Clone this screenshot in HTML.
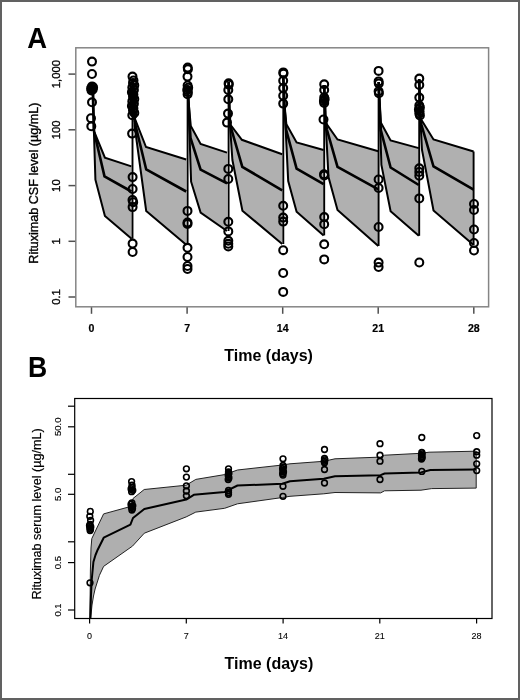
<!DOCTYPE html>
<html><head><meta charset="utf-8"><title>Rituximab levels</title>
<style>
html,body{margin:0;padding:0;background:#fff;}
body{width:520px;height:700px;overflow:hidden;position:relative;}
.frame{position:absolute;left:0;top:0;width:516px;height:696px;border:2px solid #616161;background:#fff;}
svg{position:absolute;left:0;top:0;font-family:"Liberation Sans", Arial, sans-serif;}
.th{stroke:#000;stroke-width:0.35px;}
</style></head><body>
<div class="frame"></div>
<svg width="520" height="700" viewBox="0 0 520 700">
<g id="panelA">
<polygon points="93.9,131.0 104.9,157.7 131.4,166.4 131.6,238.8 104.9,215.9 95.4,179.7" fill="#b0b0b0" stroke="none"/>
<polygon points="134.8,122.0 135.8,121.0 146.0,147.0 186.2,159.5 186.5,245.0 146.2,211.0 134.6,126.0" fill="#b0b0b0" stroke="none"/>
<polygon points="188.3,99.0 190.8,126.0 200.6,144.0 227.0,152.6 227.0,231.0 200.6,212.6 191.1,181.7" fill="#b0b0b0" stroke="none"/>
<polygon points="229.9,124.0 241.9,139.8 282.2,154.2 282.2,244.0 242.4,210.7 232.4,160.0" fill="#b0b0b0" stroke="none"/>
<polygon points="284.6,108.0 286.4,124.3 296.6,142.4 323.6,150.0 323.6,235.4 296.6,211.8 288.2,181.0" fill="#b0b0b0" stroke="none"/>
<polygon points="325.5,120.0 327.0,124.5 337.5,139.5 378.3,151.3 378.3,246.0 337.5,210.0 328.5,177.0" fill="#b0b0b0" stroke="none"/>
<polygon points="379.3,98.0 380.8,122.4 390.6,140.5 418.8,148.1 418.8,235.8 390.6,211.2 381.4,165.0" fill="#b0b0b0" stroke="none"/>
<polygon points="420.3,118.0 421.5,120.0 433.5,139.5 473.6,151.5 473.6,245.0 433.5,210.5 422.0,150.0" fill="#b0b0b0" stroke="none"/>
<polyline points="92.8,86.0 93.9,131.0" fill="none" stroke="#000" stroke-width="2.8"/>
<line x1="132.5" y1="238.8" x2="132.5" y2="80.0" stroke="#000" stroke-width="1.9"/>
<polyline points="132.5,80.0 134.8,122.0" fill="none" stroke="#000" stroke-width="2.8"/>
<line x1="187.6" y1="245.0" x2="187.6" y2="86.0" stroke="#000" stroke-width="1.9"/>
<polyline points="187.6,86.0 188.3,99.0" fill="none" stroke="#000" stroke-width="2.8"/>
<line x1="228.6" y1="231.0" x2="228.6" y2="82.0" stroke="#000" stroke-width="1.9"/>
<polyline points="228.6,82.0 229.9,124.0" fill="none" stroke="#000" stroke-width="2.8"/>
<line x1="283.3" y1="244.0" x2="283.3" y2="77.0" stroke="#000" stroke-width="1.9"/>
<polyline points="283.3,77.0 284.6,108.0" fill="none" stroke="#000" stroke-width="2.8"/>
<line x1="324.2" y1="235.4" x2="324.2" y2="85.0" stroke="#000" stroke-width="1.9"/>
<polyline points="324.2,85.0 325.5,120.0" fill="none" stroke="#000" stroke-width="2.8"/>
<line x1="378.6" y1="246.0" x2="378.6" y2="82.0" stroke="#000" stroke-width="1.9"/>
<polyline points="378.6,82.0 379.3,98.0" fill="none" stroke="#000" stroke-width="2.8"/>
<line x1="419.2" y1="235.8" x2="419.2" y2="79.0" stroke="#000" stroke-width="1.9"/>
<polyline points="419.2,79.0 420.3,118.0" fill="none" stroke="#000" stroke-width="2.8"/>
<line x1="473.6" y1="151.5" x2="473.6" y2="245.0" stroke="#000" stroke-width="1.9"/>
<polyline points="93.9,131.0 104.9,157.7 131.4,166.4" fill="none" stroke="#000" stroke-width="2" stroke-linejoin="miter"/>
<polyline points="93.9,131.0 95.4,179.7 104.9,215.9 131.6,238.8" fill="none" stroke="#000" stroke-width="2" stroke-linejoin="miter"/>
<polyline points="93.9,131.0 104.5,176.3 131.4,191.5" fill="none" stroke="#000" stroke-width="2.6" stroke-linejoin="miter"/>
<polyline points="134.8,122.0 135.8,121.0 146.0,147.0 186.2,159.5" fill="none" stroke="#000" stroke-width="2" stroke-linejoin="miter"/>
<polyline points="134.8,122.0 134.6,126.0 146.2,211.0 186.5,245.0" fill="none" stroke="#000" stroke-width="2" stroke-linejoin="miter"/>
<polyline points="134.8,122.0 135.2,124.0 146.2,169.5 186.2,191.5" fill="none" stroke="#000" stroke-width="2.6" stroke-linejoin="miter"/>
<polyline points="188.3,99.0 190.8,126.0 200.6,144.0 227.0,152.6" fill="none" stroke="#000" stroke-width="2" stroke-linejoin="miter"/>
<polyline points="188.3,99.0 191.1,181.7 200.6,212.6 227.0,231.0" fill="none" stroke="#000" stroke-width="2" stroke-linejoin="miter"/>
<polyline points="188.3,99.0 190.5,138.0 200.6,169.7 227.0,183.4" fill="none" stroke="#000" stroke-width="2.6" stroke-linejoin="miter"/>
<polyline points="229.9,124.0 241.9,139.8 282.2,154.2" fill="none" stroke="#000" stroke-width="2" stroke-linejoin="miter"/>
<polyline points="229.9,124.0 232.4,160.0 242.4,210.7 282.2,244.0" fill="none" stroke="#000" stroke-width="2" stroke-linejoin="miter"/>
<polyline points="229.9,124.0 242.3,166.8 282.2,190.3" fill="none" stroke="#000" stroke-width="2.6" stroke-linejoin="miter"/>
<polyline points="284.6,108.0 286.4,124.3 296.6,142.4 323.6,150.0" fill="none" stroke="#000" stroke-width="2" stroke-linejoin="miter"/>
<polyline points="284.6,108.0 288.2,181.0 296.6,211.8 323.6,235.4" fill="none" stroke="#000" stroke-width="2" stroke-linejoin="miter"/>
<polyline points="284.6,108.0 286.2,130.0 296.6,168.6 323.6,184.2" fill="none" stroke="#000" stroke-width="2.6" stroke-linejoin="miter"/>
<polyline points="325.5,120.0 327.0,124.5 337.5,139.5 378.3,151.3" fill="none" stroke="#000" stroke-width="2" stroke-linejoin="miter"/>
<polyline points="325.5,120.0 328.5,177.0 337.5,210.0 378.3,246.0" fill="none" stroke="#000" stroke-width="2" stroke-linejoin="miter"/>
<polyline points="325.5,120.0 327.0,130.0 337.5,166.8 378.3,189.3" fill="none" stroke="#000" stroke-width="2.6" stroke-linejoin="miter"/>
<polyline points="379.3,98.0 380.8,122.4 390.6,140.5 418.8,148.1" fill="none" stroke="#000" stroke-width="2" stroke-linejoin="miter"/>
<polyline points="379.3,98.0 381.4,165.0 390.6,211.2 418.8,235.8" fill="none" stroke="#000" stroke-width="2" stroke-linejoin="miter"/>
<polyline points="379.3,98.0 380.8,130.0 390.6,167.5 418.8,185.0" fill="none" stroke="#000" stroke-width="2.6" stroke-linejoin="miter"/>
<polyline points="420.3,118.0 421.5,120.0 433.5,139.5 473.6,151.5" fill="none" stroke="#000" stroke-width="2" stroke-linejoin="miter"/>
<polyline points="420.3,118.0 422.0,150.0 433.5,210.5 473.6,245.0" fill="none" stroke="#000" stroke-width="2" stroke-linejoin="miter"/>
<polyline points="420.3,118.0 421.5,125.0 433.5,166.5 473.6,189.6" fill="none" stroke="#000" stroke-width="2.6" stroke-linejoin="miter"/>
<circle cx="92.0" cy="61.6" r="3.95" fill="none" stroke="#000" stroke-width="2.1"/>
<circle cx="92.0" cy="74.0" r="3.95" fill="none" stroke="#000" stroke-width="2.1"/>
<circle cx="92.1" cy="86.4" r="3.95" fill="none" stroke="#000" stroke-width="2.1"/>
<circle cx="93.1" cy="87.4" r="3.95" fill="none" stroke="#000" stroke-width="2.1"/>
<circle cx="91.1" cy="88.4" r="3.95" fill="none" stroke="#000" stroke-width="2.1"/>
<circle cx="92.7" cy="89.4" r="3.95" fill="none" stroke="#000" stroke-width="2.1"/>
<circle cx="91.5" cy="90.4" r="3.95" fill="none" stroke="#000" stroke-width="2.1"/>
<circle cx="92.0" cy="102.3" r="3.95" fill="none" stroke="#000" stroke-width="2.1"/>
<circle cx="91.0" cy="118.2" r="3.95" fill="none" stroke="#000" stroke-width="2.1"/>
<circle cx="91.3" cy="126.3" r="3.95" fill="none" stroke="#000" stroke-width="2.1"/>
<circle cx="132.5" cy="76.6" r="3.95" fill="none" stroke="#000" stroke-width="2.1"/>
<circle cx="133.5" cy="80.5" r="3.95" fill="none" stroke="#000" stroke-width="2.1"/>
<circle cx="133.0" cy="83.0" r="3.95" fill="none" stroke="#000" stroke-width="2.1"/>
<circle cx="134.3" cy="85.3" r="3.95" fill="none" stroke="#000" stroke-width="2.1"/>
<circle cx="132.3" cy="87.6" r="3.95" fill="none" stroke="#000" stroke-width="2.1"/>
<circle cx="133.9" cy="89.9" r="3.95" fill="none" stroke="#000" stroke-width="2.1"/>
<circle cx="131.9" cy="92.2" r="3.95" fill="none" stroke="#000" stroke-width="2.1"/>
<circle cx="133.4" cy="94.5" r="3.95" fill="none" stroke="#000" stroke-width="2.1"/>
<circle cx="133.0" cy="96.8" r="3.95" fill="none" stroke="#000" stroke-width="2.1"/>
<circle cx="134.3" cy="99.1" r="3.95" fill="none" stroke="#000" stroke-width="2.1"/>
<circle cx="132.3" cy="101.4" r="3.95" fill="none" stroke="#000" stroke-width="2.1"/>
<circle cx="133.9" cy="103.7" r="3.95" fill="none" stroke="#000" stroke-width="2.1"/>
<circle cx="131.9" cy="106.0" r="3.95" fill="none" stroke="#000" stroke-width="2.1"/>
<circle cx="133.4" cy="108.3" r="3.95" fill="none" stroke="#000" stroke-width="2.1"/>
<circle cx="133.0" cy="110.6" r="3.95" fill="none" stroke="#000" stroke-width="2.1"/>
<circle cx="134.3" cy="112.9" r="3.95" fill="none" stroke="#000" stroke-width="2.1"/>
<circle cx="132.3" cy="115.2" r="3.95" fill="none" stroke="#000" stroke-width="2.1"/>
<circle cx="132.1" cy="133.6" r="3.95" fill="none" stroke="#000" stroke-width="2.1"/>
<circle cx="132.6" cy="177.1" r="3.95" fill="none" stroke="#000" stroke-width="2.1"/>
<circle cx="132.6" cy="189.0" r="3.95" fill="none" stroke="#000" stroke-width="2.1"/>
<circle cx="132.5" cy="200.0" r="3.95" fill="none" stroke="#000" stroke-width="2.1"/>
<circle cx="133.2" cy="202.2" r="3.95" fill="none" stroke="#000" stroke-width="2.1"/>
<circle cx="132.6" cy="207.1" r="3.95" fill="none" stroke="#000" stroke-width="2.1"/>
<circle cx="132.6" cy="243.6" r="3.95" fill="none" stroke="#000" stroke-width="2.1"/>
<circle cx="132.6" cy="252.0" r="3.95" fill="none" stroke="#000" stroke-width="2.1"/>
<circle cx="187.7" cy="67.6" r="3.95" fill="none" stroke="#000" stroke-width="2.1"/>
<circle cx="187.9" cy="69.2" r="3.95" fill="none" stroke="#000" stroke-width="2.1"/>
<circle cx="187.5" cy="76.6" r="3.95" fill="none" stroke="#000" stroke-width="2.1"/>
<circle cx="187.6" cy="85.5" r="3.95" fill="none" stroke="#000" stroke-width="2.1"/>
<circle cx="188.2" cy="87.7" r="3.95" fill="none" stroke="#000" stroke-width="2.1"/>
<circle cx="187.2" cy="89.9" r="3.95" fill="none" stroke="#000" stroke-width="2.1"/>
<circle cx="187.9" cy="92.1" r="3.95" fill="none" stroke="#000" stroke-width="2.1"/>
<circle cx="187.6" cy="94.3" r="3.95" fill="none" stroke="#000" stroke-width="2.1"/>
<circle cx="187.5" cy="210.9" r="3.95" fill="none" stroke="#000" stroke-width="2.1"/>
<circle cx="187.5" cy="222.6" r="3.95" fill="none" stroke="#000" stroke-width="2.1"/>
<circle cx="187.5" cy="224.0" r="3.95" fill="none" stroke="#000" stroke-width="2.1"/>
<circle cx="187.5" cy="247.8" r="3.95" fill="none" stroke="#000" stroke-width="2.1"/>
<circle cx="187.5" cy="257.0" r="3.95" fill="none" stroke="#000" stroke-width="2.1"/>
<circle cx="187.5" cy="266.0" r="3.95" fill="none" stroke="#000" stroke-width="2.1"/>
<circle cx="187.5" cy="269.0" r="3.95" fill="none" stroke="#000" stroke-width="2.1"/>
<circle cx="228.6" cy="83.2" r="3.95" fill="none" stroke="#000" stroke-width="2.1"/>
<circle cx="228.8" cy="84.6" r="3.95" fill="none" stroke="#000" stroke-width="2.1"/>
<circle cx="228.3" cy="90.0" r="3.95" fill="none" stroke="#000" stroke-width="2.1"/>
<circle cx="228.3" cy="99.3" r="3.95" fill="none" stroke="#000" stroke-width="2.1"/>
<circle cx="228.0" cy="113.6" r="3.95" fill="none" stroke="#000" stroke-width="2.1"/>
<circle cx="227.0" cy="122.6" r="3.95" fill="none" stroke="#000" stroke-width="2.1"/>
<circle cx="228.3" cy="168.9" r="3.95" fill="none" stroke="#000" stroke-width="2.1"/>
<circle cx="228.3" cy="179.0" r="3.95" fill="none" stroke="#000" stroke-width="2.1"/>
<circle cx="228.3" cy="221.8" r="3.95" fill="none" stroke="#000" stroke-width="2.1"/>
<circle cx="228.3" cy="231.4" r="3.95" fill="none" stroke="#000" stroke-width="2.1"/>
<circle cx="228.3" cy="240.8" r="3.95" fill="none" stroke="#000" stroke-width="2.1"/>
<circle cx="228.3" cy="243.8" r="3.95" fill="none" stroke="#000" stroke-width="2.1"/>
<circle cx="228.3" cy="246.4" r="3.95" fill="none" stroke="#000" stroke-width="2.1"/>
<circle cx="283.3" cy="72.4" r="3.95" fill="none" stroke="#000" stroke-width="2.1"/>
<circle cx="283.5" cy="73.6" r="3.95" fill="none" stroke="#000" stroke-width="2.1"/>
<circle cx="283.2" cy="80.7" r="3.95" fill="none" stroke="#000" stroke-width="2.1"/>
<circle cx="283.2" cy="88.1" r="3.95" fill="none" stroke="#000" stroke-width="2.1"/>
<circle cx="283.2" cy="95.7" r="3.95" fill="none" stroke="#000" stroke-width="2.1"/>
<circle cx="283.2" cy="103.6" r="3.95" fill="none" stroke="#000" stroke-width="2.1"/>
<circle cx="283.2" cy="205.8" r="3.95" fill="none" stroke="#000" stroke-width="2.1"/>
<circle cx="283.2" cy="217.6" r="3.95" fill="none" stroke="#000" stroke-width="2.1"/>
<circle cx="283.2" cy="221.6" r="3.95" fill="none" stroke="#000" stroke-width="2.1"/>
<circle cx="283.2" cy="250.2" r="3.95" fill="none" stroke="#000" stroke-width="2.1"/>
<circle cx="283.2" cy="273.0" r="3.95" fill="none" stroke="#000" stroke-width="2.1"/>
<circle cx="283.2" cy="291.9" r="3.95" fill="none" stroke="#000" stroke-width="2.1"/>
<circle cx="324.2" cy="84.3" r="3.95" fill="none" stroke="#000" stroke-width="2.1"/>
<circle cx="324.2" cy="90.0" r="3.95" fill="none" stroke="#000" stroke-width="2.1"/>
<circle cx="324.2" cy="97.5" r="3.95" fill="none" stroke="#000" stroke-width="2.1"/>
<circle cx="324.7" cy="99.3" r="3.95" fill="none" stroke="#000" stroke-width="2.1"/>
<circle cx="323.9" cy="101.1" r="3.95" fill="none" stroke="#000" stroke-width="2.1"/>
<circle cx="324.2" cy="102.9" r="3.95" fill="none" stroke="#000" stroke-width="2.1"/>
<circle cx="323.5" cy="119.5" r="3.95" fill="none" stroke="#000" stroke-width="2.1"/>
<circle cx="324.0" cy="174.3" r="3.95" fill="none" stroke="#000" stroke-width="2.1"/>
<circle cx="324.3" cy="175.5" r="3.95" fill="none" stroke="#000" stroke-width="2.1"/>
<circle cx="324.2" cy="217.1" r="3.95" fill="none" stroke="#000" stroke-width="2.1"/>
<circle cx="324.2" cy="224.3" r="3.95" fill="none" stroke="#000" stroke-width="2.1"/>
<circle cx="324.2" cy="244.3" r="3.95" fill="none" stroke="#000" stroke-width="2.1"/>
<circle cx="324.2" cy="259.4" r="3.95" fill="none" stroke="#000" stroke-width="2.1"/>
<circle cx="378.6" cy="70.9" r="3.95" fill="none" stroke="#000" stroke-width="2.1"/>
<circle cx="378.6" cy="81.4" r="3.95" fill="none" stroke="#000" stroke-width="2.1"/>
<circle cx="378.8" cy="83.4" r="3.95" fill="none" stroke="#000" stroke-width="2.1"/>
<circle cx="378.6" cy="91.2" r="3.95" fill="none" stroke="#000" stroke-width="2.1"/>
<circle cx="378.9" cy="93.2" r="3.95" fill="none" stroke="#000" stroke-width="2.1"/>
<circle cx="378.6" cy="179.5" r="3.95" fill="none" stroke="#000" stroke-width="2.1"/>
<circle cx="378.6" cy="188.0" r="3.95" fill="none" stroke="#000" stroke-width="2.1"/>
<circle cx="378.6" cy="227.0" r="3.95" fill="none" stroke="#000" stroke-width="2.1"/>
<circle cx="378.6" cy="262.6" r="3.95" fill="none" stroke="#000" stroke-width="2.1"/>
<circle cx="378.6" cy="267.0" r="3.95" fill="none" stroke="#000" stroke-width="2.1"/>
<circle cx="419.3" cy="78.6" r="3.95" fill="none" stroke="#000" stroke-width="2.1"/>
<circle cx="419.3" cy="85.0" r="3.95" fill="none" stroke="#000" stroke-width="2.1"/>
<circle cx="419.3" cy="97.6" r="3.95" fill="none" stroke="#000" stroke-width="2.1"/>
<circle cx="419.3" cy="105.5" r="3.95" fill="none" stroke="#000" stroke-width="2.1"/>
<circle cx="419.9" cy="107.5" r="3.95" fill="none" stroke="#000" stroke-width="2.1"/>
<circle cx="418.9" cy="109.5" r="3.95" fill="none" stroke="#000" stroke-width="2.1"/>
<circle cx="419.6" cy="111.5" r="3.95" fill="none" stroke="#000" stroke-width="2.1"/>
<circle cx="419.3" cy="113.5" r="3.95" fill="none" stroke="#000" stroke-width="2.1"/>
<circle cx="419.9" cy="115.5" r="3.95" fill="none" stroke="#000" stroke-width="2.1"/>
<circle cx="419.3" cy="168.3" r="3.95" fill="none" stroke="#000" stroke-width="2.1"/>
<circle cx="419.3" cy="172.0" r="3.95" fill="none" stroke="#000" stroke-width="2.1"/>
<circle cx="419.3" cy="175.8" r="3.95" fill="none" stroke="#000" stroke-width="2.1"/>
<circle cx="419.3" cy="198.4" r="3.95" fill="none" stroke="#000" stroke-width="2.1"/>
<circle cx="419.3" cy="262.5" r="3.95" fill="none" stroke="#000" stroke-width="2.1"/>
<circle cx="474.0" cy="204.0" r="3.95" fill="none" stroke="#000" stroke-width="2.1"/>
<circle cx="474.0" cy="210.0" r="3.95" fill="none" stroke="#000" stroke-width="2.1"/>
<circle cx="474.0" cy="229.5" r="3.95" fill="none" stroke="#000" stroke-width="2.1"/>
<circle cx="474.0" cy="243.0" r="3.95" fill="none" stroke="#000" stroke-width="2.1"/>
<circle cx="474.0" cy="250.5" r="3.95" fill="none" stroke="#000" stroke-width="2.1"/>
<ellipse cx="92.1" cy="88.4" rx="3.0" ry="4.2" fill="#000"/>
<ellipse cx="133.0" cy="100.5" rx="3.2" ry="16.5" fill="#000"/>
<ellipse cx="187.7" cy="89.8" rx="3.0" ry="4.5" fill="#000"/>
<ellipse cx="324.3" cy="101.2" rx="3.0" ry="3.2" fill="#000"/>
<ellipse cx="419.5" cy="111.5" rx="2.2" ry="4.0" fill="#000"/>
<rect x="75.8" y="47.8" width="412.8" height="259.0" fill="none" stroke="#858585" stroke-width="1.5"/>
<line x1="68.5" y1="74.1" x2="75.2" y2="74.1" stroke="#505050" stroke-width="1.5"/>
<text x="0" y="0" transform="translate(59.8,74.1) rotate(-90)" text-anchor="middle" font-size="11.3" class="th" fill="#000">1,000</text>
<line x1="68.5" y1="129.8" x2="75.2" y2="129.8" stroke="#505050" stroke-width="1.5"/>
<text x="0" y="0" transform="translate(59.8,129.8) rotate(-90)" text-anchor="middle" font-size="11.3" class="th" fill="#000">100</text>
<line x1="68.5" y1="185.6" x2="75.2" y2="185.6" stroke="#505050" stroke-width="1.5"/>
<text x="0" y="0" transform="translate(59.8,185.6) rotate(-90)" text-anchor="middle" font-size="11.3" class="th" fill="#000">10</text>
<line x1="68.5" y1="241.3" x2="75.2" y2="241.3" stroke="#505050" stroke-width="1.5"/>
<text x="0" y="0" transform="translate(59.8,241.3) rotate(-90)" text-anchor="middle" font-size="11.3" class="th" fill="#000">1</text>
<line x1="68.5" y1="297.0" x2="75.2" y2="297.0" stroke="#505050" stroke-width="1.5"/>
<text x="0" y="0" transform="translate(59.8,297.0) rotate(-90)" text-anchor="middle" font-size="11.3" class="th" fill="#000">0.1</text>
<line x1="91.5" y1="307.3" x2="91.5" y2="313.8" stroke="#505050" stroke-width="1.5"/>
<text x="91.5" y="331.5" text-anchor="middle" font-size="10.6" font-weight="bold" stroke="#000" stroke-width="0.2" fill="#000">0</text>
<line x1="187.1" y1="307.3" x2="187.1" y2="313.8" stroke="#505050" stroke-width="1.5"/>
<text x="187.1" y="331.5" text-anchor="middle" font-size="10.6" font-weight="bold" stroke="#000" stroke-width="0.2" fill="#000">7</text>
<line x1="282.7" y1="307.3" x2="282.7" y2="313.8" stroke="#505050" stroke-width="1.5"/>
<text x="282.7" y="331.5" text-anchor="middle" font-size="10.6" font-weight="bold" stroke="#000" stroke-width="0.2" fill="#000">14</text>
<line x1="378.2" y1="307.3" x2="378.2" y2="313.8" stroke="#505050" stroke-width="1.5"/>
<text x="378.2" y="331.5" text-anchor="middle" font-size="10.6" font-weight="bold" stroke="#000" stroke-width="0.2" fill="#000">21</text>
<line x1="473.8" y1="307.3" x2="473.8" y2="313.8" stroke="#505050" stroke-width="1.5"/>
<text x="473.8" y="331.5" text-anchor="middle" font-size="10.6" font-weight="bold" stroke="#000" stroke-width="0.2" fill="#000">28</text>
<text x="224.3" y="360.5" font-size="16" font-weight="bold" fill="#000">Time (days)</text>
<text x="0" y="0" transform="translate(38.0,183.1) rotate(-90)" text-anchor="middle" font-size="12.6" class="th" fill="#000">Rituximab CSF level (µg/mL)</text>
</g>
<g id="panelB">
<polygon points="89.9,618.3 90.4,570.0 91.0,548.0 91.8,538.6 103.6,513.9 131.2,506.3 133.0,498.5 144.2,489.5 186.2,485.2 195.8,479.4 224.6,474.6 237.5,470.0 282.5,465.0 290.0,463.8 323.8,461.3 335.0,458.8 380.6,457.1 384.6,455.2 421.0,453.3 429.0,452.2 476.2,451.2 476.2,488.1 431.7,488.6 421.0,490.2 384.6,490.8 380.6,492.9 335.0,492.5 323.8,493.8 290.0,496.3 282.5,497.5 237.5,503.8 224.6,508.3 195.8,512.1 186.2,516.9 144.3,533.2 132.5,546.1 103.6,566.4 99.4,575.4 95.1,589.0 93.5,596.0 92.0,605.0 90.7,618.3" fill="#afafaf" stroke="#222" stroke-width="1"/>
<polyline points="90.3,618.3 91.0,595.0 91.7,580.0 93.4,562.0 95.5,555.0 97.7,549.7 103.7,537.7 130.4,524.6 133.0,518.0 144.3,509.0 186.2,499.6 193.8,494.8 224.6,491.9 237.5,485.5 282.5,483.8 290.0,481.3 323.8,478.8 335.0,476.3 380.6,475.2 384.6,473.5 421.0,472.4 430.4,470.0 476.2,469.5" fill="none" stroke="#000" stroke-width="2.0" stroke-linejoin="round"/>
<circle cx="90.3" cy="511.4" r="2.85" fill="none" stroke="#000" stroke-width="1.6"/>
<circle cx="89.8" cy="516.3" r="2.85" fill="none" stroke="#000" stroke-width="1.6"/>
<circle cx="90.6" cy="520.3" r="2.85" fill="none" stroke="#000" stroke-width="1.6"/>
<circle cx="90.1" cy="524.5" r="2.85" fill="none" stroke="#000" stroke-width="1.6"/>
<circle cx="89.5" cy="525.7" r="2.85" fill="none" stroke="#000" stroke-width="1.6"/>
<circle cx="90.8" cy="526.9" r="2.85" fill="none" stroke="#000" stroke-width="1.6"/>
<circle cx="89.8" cy="528.1" r="2.85" fill="none" stroke="#000" stroke-width="1.6"/>
<circle cx="90.5" cy="529.3" r="2.85" fill="none" stroke="#000" stroke-width="1.6"/>
<circle cx="90.1" cy="530.5" r="2.85" fill="none" stroke="#000" stroke-width="1.6"/>
<circle cx="90.0" cy="582.8" r="2.85" fill="none" stroke="#000" stroke-width="1.6"/>
<circle cx="131.6" cy="481.6" r="2.85" fill="none" stroke="#000" stroke-width="1.6"/>
<circle cx="132.0" cy="485.2" r="2.85" fill="none" stroke="#000" stroke-width="1.6"/>
<circle cx="132.0" cy="487.5" r="2.85" fill="none" stroke="#000" stroke-width="1.6"/>
<circle cx="131.1" cy="488.9" r="2.85" fill="none" stroke="#000" stroke-width="1.6"/>
<circle cx="132.8" cy="490.3" r="2.85" fill="none" stroke="#000" stroke-width="1.6"/>
<circle cx="131.6" cy="491.7" r="2.85" fill="none" stroke="#000" stroke-width="1.6"/>
<circle cx="131.9" cy="503.0" r="2.85" fill="none" stroke="#000" stroke-width="1.6"/>
<circle cx="131.0" cy="504.4" r="2.85" fill="none" stroke="#000" stroke-width="1.6"/>
<circle cx="132.8" cy="505.8" r="2.85" fill="none" stroke="#000" stroke-width="1.6"/>
<circle cx="131.4" cy="507.2" r="2.85" fill="none" stroke="#000" stroke-width="1.6"/>
<circle cx="132.5" cy="508.6" r="2.85" fill="none" stroke="#000" stroke-width="1.6"/>
<circle cx="131.9" cy="510.0" r="2.85" fill="none" stroke="#000" stroke-width="1.6"/>
<circle cx="186.4" cy="468.8" r="2.85" fill="none" stroke="#000" stroke-width="1.6"/>
<circle cx="186.4" cy="477.1" r="2.85" fill="none" stroke="#000" stroke-width="1.6"/>
<circle cx="186.4" cy="485.8" r="2.85" fill="none" stroke="#000" stroke-width="1.6"/>
<circle cx="186.4" cy="491.0" r="2.85" fill="none" stroke="#000" stroke-width="1.6"/>
<circle cx="186.4" cy="495.8" r="2.85" fill="none" stroke="#000" stroke-width="1.6"/>
<circle cx="228.5" cy="468.8" r="2.85" fill="none" stroke="#000" stroke-width="1.6"/>
<circle cx="228.5" cy="472.0" r="2.85" fill="none" stroke="#000" stroke-width="1.6"/>
<circle cx="228.9" cy="473.5" r="2.85" fill="none" stroke="#000" stroke-width="1.6"/>
<circle cx="228.2" cy="475.0" r="2.85" fill="none" stroke="#000" stroke-width="1.6"/>
<circle cx="228.5" cy="476.5" r="2.85" fill="none" stroke="#000" stroke-width="1.6"/>
<circle cx="228.9" cy="478.0" r="2.85" fill="none" stroke="#000" stroke-width="1.6"/>
<circle cx="228.2" cy="479.5" r="2.85" fill="none" stroke="#000" stroke-width="1.6"/>
<circle cx="228.5" cy="490.5" r="2.85" fill="none" stroke="#000" stroke-width="1.6"/>
<circle cx="228.5" cy="492.5" r="2.85" fill="none" stroke="#000" stroke-width="1.6"/>
<circle cx="228.5" cy="494.3" r="2.85" fill="none" stroke="#000" stroke-width="1.6"/>
<circle cx="283.0" cy="458.8" r="2.85" fill="none" stroke="#000" stroke-width="1.6"/>
<circle cx="283.0" cy="465.5" r="2.85" fill="none" stroke="#000" stroke-width="1.6"/>
<circle cx="283.5" cy="467.1" r="2.85" fill="none" stroke="#000" stroke-width="1.6"/>
<circle cx="282.6" cy="468.7" r="2.85" fill="none" stroke="#000" stroke-width="1.6"/>
<circle cx="283.0" cy="470.3" r="2.85" fill="none" stroke="#000" stroke-width="1.6"/>
<circle cx="283.5" cy="471.9" r="2.85" fill="none" stroke="#000" stroke-width="1.6"/>
<circle cx="282.6" cy="473.5" r="2.85" fill="none" stroke="#000" stroke-width="1.6"/>
<circle cx="283.0" cy="475.1" r="2.85" fill="none" stroke="#000" stroke-width="1.6"/>
<circle cx="283.0" cy="486.3" r="2.85" fill="none" stroke="#000" stroke-width="1.6"/>
<circle cx="283.0" cy="496.3" r="2.85" fill="none" stroke="#000" stroke-width="1.6"/>
<circle cx="324.5" cy="449.5" r="2.85" fill="none" stroke="#000" stroke-width="1.6"/>
<circle cx="324.5" cy="458.5" r="2.85" fill="none" stroke="#000" stroke-width="1.6"/>
<circle cx="324.9" cy="459.9" r="2.85" fill="none" stroke="#000" stroke-width="1.6"/>
<circle cx="324.2" cy="461.3" r="2.85" fill="none" stroke="#000" stroke-width="1.6"/>
<circle cx="324.5" cy="462.7" r="2.85" fill="none" stroke="#000" stroke-width="1.6"/>
<circle cx="324.5" cy="469.5" r="2.85" fill="none" stroke="#000" stroke-width="1.6"/>
<circle cx="324.5" cy="483.0" r="2.85" fill="none" stroke="#000" stroke-width="1.6"/>
<circle cx="380.0" cy="443.7" r="2.85" fill="none" stroke="#000" stroke-width="1.6"/>
<circle cx="380.0" cy="455.2" r="2.85" fill="none" stroke="#000" stroke-width="1.6"/>
<circle cx="380.0" cy="461.2" r="2.85" fill="none" stroke="#000" stroke-width="1.6"/>
<circle cx="380.0" cy="479.5" r="2.85" fill="none" stroke="#000" stroke-width="1.6"/>
<circle cx="421.8" cy="437.5" r="2.85" fill="none" stroke="#000" stroke-width="1.6"/>
<circle cx="421.8" cy="452.5" r="2.85" fill="none" stroke="#000" stroke-width="1.6"/>
<circle cx="422.2" cy="453.8" r="2.85" fill="none" stroke="#000" stroke-width="1.6"/>
<circle cx="421.5" cy="455.1" r="2.85" fill="none" stroke="#000" stroke-width="1.6"/>
<circle cx="421.8" cy="456.4" r="2.85" fill="none" stroke="#000" stroke-width="1.6"/>
<circle cx="422.2" cy="457.7" r="2.85" fill="none" stroke="#000" stroke-width="1.6"/>
<circle cx="421.5" cy="459.0" r="2.85" fill="none" stroke="#000" stroke-width="1.6"/>
<circle cx="421.8" cy="471.4" r="2.85" fill="none" stroke="#000" stroke-width="1.6"/>
<circle cx="476.7" cy="435.6" r="2.85" fill="none" stroke="#000" stroke-width="1.6"/>
<circle cx="476.7" cy="451.7" r="2.85" fill="none" stroke="#000" stroke-width="1.6"/>
<circle cx="476.7" cy="455.2" r="2.85" fill="none" stroke="#000" stroke-width="1.6"/>
<circle cx="476.7" cy="463.8" r="2.85" fill="none" stroke="#000" stroke-width="1.6"/>
<circle cx="476.7" cy="470.6" r="2.85" fill="none" stroke="#000" stroke-width="1.6"/>
<ellipse cx="90.1" cy="527.5" rx="2.0" ry="3.0" fill="#000"/>
<ellipse cx="132.0" cy="490.3" rx="1.8" ry="2.8" fill="#000"/>
<ellipse cx="131.9" cy="507.0" rx="2.0" ry="4.2" fill="#000"/>
<ellipse cx="228.5" cy="475.7" rx="1.6" ry="3.2" fill="#000"/>
<ellipse cx="283.0" cy="470.5" rx="1.6" ry="4.0" fill="#000"/>
<ellipse cx="421.8" cy="455.8" rx="1.6" ry="2.8" fill="#000"/>
<rect x="74.7" y="398.5" width="417.3" height="220" fill="none" stroke="#000" stroke-width="1.2"/>
<line x1="68" y1="406.2" x2="74.7" y2="406.2" stroke="#000" stroke-width="1.2"/>
<line x1="68" y1="426.8" x2="74.7" y2="426.8" stroke="#000" stroke-width="1.2"/>
<text x="0" y="0" transform="translate(60.9,426.8) rotate(-90)" text-anchor="middle" font-size="9.5" stroke="#000" stroke-width="0.12" fill="#000">50.0</text>
<line x1="68" y1="474.3" x2="74.7" y2="474.3" stroke="#000" stroke-width="1.2"/>
<line x1="68" y1="494.3" x2="74.7" y2="494.3" stroke="#000" stroke-width="1.2"/>
<text x="0" y="0" transform="translate(60.9,494.3) rotate(-90)" text-anchor="middle" font-size="9.5" stroke="#000" stroke-width="0.12" fill="#000">5.0</text>
<line x1="68" y1="541.8" x2="74.7" y2="541.8" stroke="#000" stroke-width="1.2"/>
<line x1="68" y1="562.6" x2="74.7" y2="562.6" stroke="#000" stroke-width="1.2"/>
<text x="0" y="0" transform="translate(60.9,562.6) rotate(-90)" text-anchor="middle" font-size="9.5" stroke="#000" stroke-width="0.12" fill="#000">0.5</text>
<line x1="68" y1="610.0" x2="74.7" y2="610.0" stroke="#000" stroke-width="1.2"/>
<text x="0" y="0" transform="translate(60.9,610.0) rotate(-90)" text-anchor="middle" font-size="9.5" stroke="#000" stroke-width="0.12" fill="#000">0.1</text>
<line x1="89.6" y1="618.5" x2="89.6" y2="623.5" stroke="#000" stroke-width="1.2"/>
<text x="89.6" y="638.8" text-anchor="middle" font-size="9" stroke="#000" stroke-width="0.1" fill="#000">0</text>
<line x1="186.3" y1="618.5" x2="186.3" y2="623.5" stroke="#000" stroke-width="1.2"/>
<text x="186.3" y="638.8" text-anchor="middle" font-size="9" stroke="#000" stroke-width="0.1" fill="#000">7</text>
<line x1="283.1" y1="618.5" x2="283.1" y2="623.5" stroke="#000" stroke-width="1.2"/>
<text x="283.1" y="638.8" text-anchor="middle" font-size="9" stroke="#000" stroke-width="0.1" fill="#000">14</text>
<line x1="379.8" y1="618.5" x2="379.8" y2="623.5" stroke="#000" stroke-width="1.2"/>
<text x="379.8" y="638.8" text-anchor="middle" font-size="9" stroke="#000" stroke-width="0.1" fill="#000">21</text>
<line x1="476.6" y1="618.5" x2="476.6" y2="623.5" stroke="#000" stroke-width="1.2"/>
<text x="476.6" y="638.8" text-anchor="middle" font-size="9" stroke="#000" stroke-width="0.1" fill="#000">28</text>
<text x="224.6" y="668.8" font-size="16" font-weight="bold" fill="#000">Time (days)</text>
<text x="0" y="0" transform="translate(40.8,513.9) rotate(-90)" text-anchor="middle" font-size="12.6" stroke="#000" stroke-width="0.2" fill="#000">Rituximab serum level (µg/mL)</text>
</g>
<text x="0" y="0" transform="translate(27.2,47.7) scale(0.93,1)" font-size="29.5" font-weight="bold" fill="#000">A</text>
<text x="0" y="0" transform="translate(28.0,376.5) scale(0.9,1)" font-size="29.5" font-weight="bold" fill="#000">B</text>
</svg>
</body></html>
